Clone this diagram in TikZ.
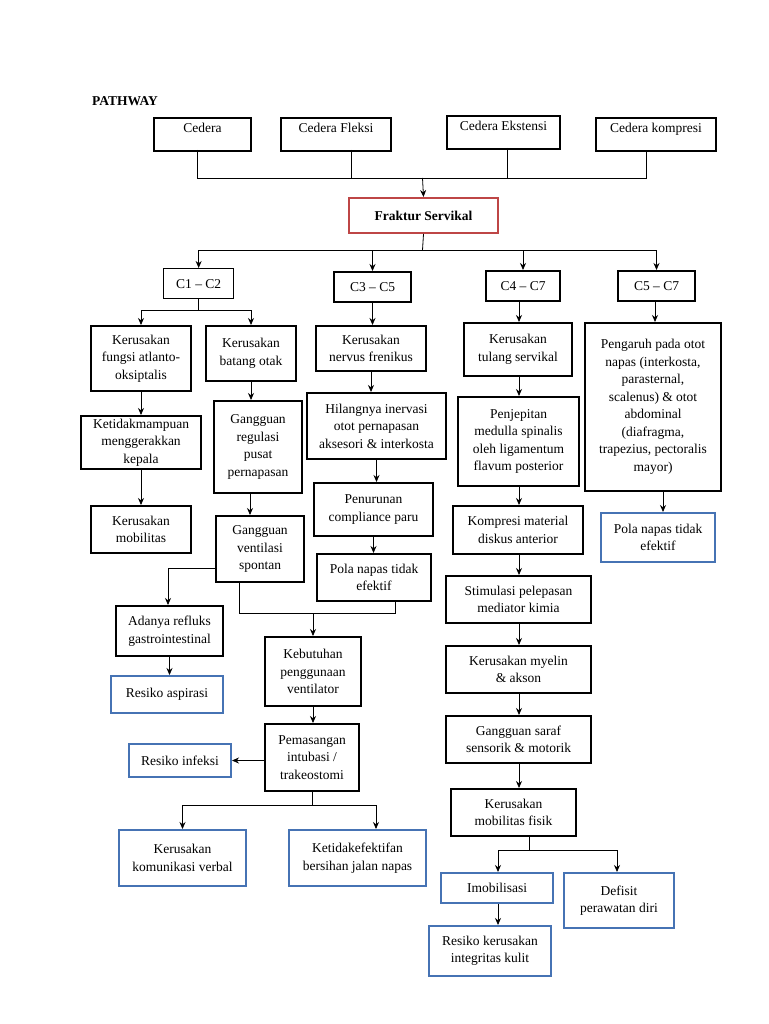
\documentclass[tikz,border=0pt]{standalone}
\usepackage{fontspec}
\setmainfont{Liberation Serif}
\usetikzlibrary{shapes,arrows,arrows.meta,positioning}
\tikzstyle{arrow} = [line width=0.8pt,->,>={Stealth[length=7pt,width=6pt]}]
\tikzstyle{line} = [line width=0.8pt]
\definecolor{bluebd}{RGB}{70,115,180}
\definecolor{redbd}{RGB}{190,70,70}
\begin{document}
\begin{tikzpicture}[
  x=1pt, y=-1pt,
  every node/.style={align=center, font=\fontsize{13.5}{17.5}\selectfont, inner sep=2pt},
  box/.style={draw, line width=2pt, anchor=north west},
  thinbox/.style={draw, line width=1.3pt, anchor=north west},
  redbox/.style={draw=redbd, line width=2pt, anchor=north west},
  bluebox/.style={draw=bluebd, line width=2pt, anchor=north west}
]
\useasboundingbox (0,0) rectangle (768,1024);
\node[font=\fontsize{13.5}{17.5}\selectfont\bfseries, anchor=west] (title) at (90,101) {PATHWAY};
% penyebab
\node[box, minimum width=97pt, minimum height=33pt, anchor=north west] (c1) at (153,117) {};
\node[anchor=north] at ([yshift=-4pt]c1.north) {Cedera};
\node[box, minimum width=110pt, minimum height=33pt] (c2) at (280,117) {};
\node[anchor=north] at ([yshift=-4pt]c2.north) {Cedera Fleksi};
\node[box, minimum width=113pt, minimum height=33pt] (c3) at (446,115) {};
\node[anchor=north] at ([yshift=-4pt]c3.north) {Cedera Ekstensi};
\node[box, minimum width=120pt, minimum height=33pt] (c4) at (595,117) {};
\node[anchor=north] at ([yshift=-4pt]c4.north) {Cedera kompresi};
\node[redbox, minimum width=149pt, minimum height=35pt, font=\fontsize{13.5}{17.5}\selectfont\bfseries] (fraktur) at (348,197) {Fraktur Servikal};
\coordinate (j1) at (422.5,178);
\coordinate (j2) at (422.5,250);
\draw[line] (197,150) |- (646,178) -- (646,150);
\draw[line] (351,150) -- (351,178);
\draw[line] (507,148) -- (507,178);
\draw[arrow] (j1) -- (fraktur.north);
% level servikal
\node[thinbox, minimum width=70pt, minimum height=30pt] (cc1) at (163,268) {C1 -- C2};
\node[box, minimum width=77pt, minimum height=30pt] (cc2) at (333,271) {C3 -- C5};
\node[box, minimum width=74pt, minimum height=30pt] (cc3) at (485,270) {C4 -- C7};
\node[box, minimum width=77pt, minimum height=30pt] (cc4) at (617,270) {C5 -- C7};
\draw[line] (fraktur.south) -- (j2);
\draw[arrow] (j2) -| (cc1.north);
\draw[arrow] (j2) -| (cc4.north);
\draw[arrow] (j2 -| cc2.north) -- (cc2.north);
\draw[arrow] (j2 -| cc3.north) -- (cc3.north);
% cabang C1-C2
\node[box, minimum width=100pt, minimum height=65pt] (atlanto) at (90,325) {Kerusakan\\fungsi atlanto-\\oksiptalis};
\node[box, minimum width=90pt, minimum height=55pt] (batang) at (205,325) {Kerusakan\\batang otak};
\draw[line] (cc1.south) -- (cc1.south |- 0,310);
\draw[arrow] (cc1.south |- 0,310) -| (atlanto.north);
\draw[arrow] (cc1.south |- 0,310) -| (batang.north);
\node[box, minimum width=120pt, minimum height=53pt] (kepala) at (80,415) {Ketidakmampuan\\menggerakkan\\kepala};
\node[box, minimum width=100pt, minimum height=47pt] (mobil) at (90,505) {Kerusakan\\mobilitas};
\draw[arrow] (atlanto) -- (kepala);
\draw[arrow] (kepala) -- (mobil);
\node[box, minimum width=88pt, minimum height=92pt] (regulasi) at (213,400) {Gangguan\\regulasi\\pusat\\pernapasan};
\node[box, minimum width=88pt, minimum height=66pt] (ventilasi) at (215,515) {Gangguan\\ventilasi\\spontan};
\draw[arrow] (batang) -- (regulasi.north -| batang);
\draw[arrow] (250,492) -- (250,515);
% cabang C3-C5
\node[box, minimum width=110pt, minimum height=45pt] (frenikus) at (315,325) {Kerusakan\\nervus frenikus};
\node[box, minimum width=139pt, minimum height=66pt] (inervasi) at (306,392) {Hilangnya inervasi\\otot pernapasan\\aksesori \& interkosta};
\node[box, minimum width=119pt, minimum height=53pt] (compliance) at (313,482) {Penurunan\\compliance paru};
\node[box, minimum width=114pt, minimum height=47pt] (polahitam) at (316,553) {Pola napas tidak\\efektif};
\draw[arrow] (cc2) -- (frenikus.north -| cc2);
\draw[arrow] (frenikus) -- (inervasi.north -| frenikus);
\draw[arrow] (inervasi) -- (compliance.north -| inervasi);
\draw[arrow] (compliance) -- (polahitam.north -| compliance);
% ventilasi
\node[box, minimum width=107pt, minimum height=50pt] (refluks) at (115,605) {Adanya refluks\\gastrointestinal};
\node[bluebox, minimum width=112pt, minimum height=37pt] (aspirasi) at (110,675) {Resiko aspirasi};
\node[box, minimum width=96pt, minimum height=69pt] (ventilator) at (264,636) {Kebutuhan\\penggunaan\\ventilator};
\node[box, minimum width=94pt, minimum height=67pt] (intubasi) at (264,723) {Pemasangan\\intubasi /\\trakeostomi};
\node[bluebox, minimum width=102pt, minimum height=33pt] (infeksi) at (128,743) {Resiko infeksi};
\draw[arrow] (ventilasi.west |- 0,568) -| (refluks.north -| 168,0);
\draw[arrow] (refluks) -- (aspirasi.north -| refluks);
\draw[line] (239,581) |- (395,613) -- (395,600);
\draw[arrow] (ventilator.north |- 0,613) -- (ventilator.north);
\draw[arrow] (ventilator) -- (intubasi.north -| ventilator);
\draw[arrow] (intubasi.west |- infeksi) -- (infeksi);
\node[bluebox, minimum width=127pt, minimum height=56pt] (verbal) at (118,829) {Kerusakan\\komunikasi verbal};
\node[bluebox, minimum width=137pt, minimum height=56pt] (bersihan) at (288,829) {Ketidakefektifan\\bersihan jalan napas};
\draw[line] (intubasi.south) -- (intubasi.south |- 0,805);
\draw[arrow] (intubasi.south |- 0,805) -| (verbal.north);
\draw[arrow] (intubasi.south |- 0,805) -| (bersihan.north -| 376,0);
% cabang C4-C7
\node[box, minimum width=108pt, minimum height=53pt] (tulang) at (463,322) {Kerusakan\\tulang servikal};
\node[box, minimum width=121pt, minimum height=89pt] (penjepitan) at (457,396) {Penjepitan\\medulla spinalis\\oleh ligamentum\\flavum posterior};
\node[box, minimum width=130pt, minimum height=48pt] (diskus) at (452,505) {Kompresi material\\diskus anterior};
\node[box, minimum width=145pt, minimum height=47pt] (mediator) at (445,575) {Stimulasi pelepasan\\mediator kimia};
\node[box, minimum width=145pt, minimum height=47pt] (myelin) at (445,645) {Kerusakan myelin\\\& akson};
\node[box, minimum width=145pt, minimum height=47pt] (saraf) at (445,715) {Gangguan saraf\\sensorik \& motorik};
\node[box, minimum width=125pt, minimum height=47pt] (fisik) at (450,788) {Kerusakan\\mobilitas fisik};
\foreach \a/\b in {cc3/tulang, tulang/penjepitan, penjepitan/diskus, diskus/mediator, mediator/myelin, myelin/saraf, saraf/fisik}
  \draw[arrow] (\a.south -| 519,0) -- (\b.north -| 519,0);
\node[bluebox, minimum width=112pt, minimum height=30pt] (imobil) at (440,872) {Imobilisasi};
\node[bluebox, minimum width=110pt, minimum height=55pt] (defisit) at (563,872) {Defisit\\perawatan diri};
\node[bluebox, minimum width=122pt, minimum height=50pt] (kulit) at (428,925) {Resiko kerusakan\\integritas kulit};
\draw[line] (fisik.south -| 529,0) -- (529,850);
\draw[arrow] (529,850) -| (imobil.north -| 498,0);
\draw[arrow] (529,850) -| (defisit.north -| 617,0);
\draw[arrow] (imobil.south -| 498,0) -- (kulit.north -| 498,0);
% cabang C5-C7
\node[box, minimum width=136pt, minimum height=168pt] (otot) at (584,322) {Pengaruh pada otot\\napas (interkosta,\\parasternal,\\scalenus) \& otot\\abdominal\\(diafragma,\\trapezius, pectoralis\\mayor)};
\node[bluebox, minimum width=114pt, minimum height=49pt] (polabiru) at (600,512) {Pola napas tidak\\efektif};
\draw[arrow] (cc4.south -| 655,0) -- (otot.north -| 655,0);
\draw[arrow] (otot.south -| 663,0) -- (polabiru.north -| 663,0);
\end{tikzpicture}
\end{document}
